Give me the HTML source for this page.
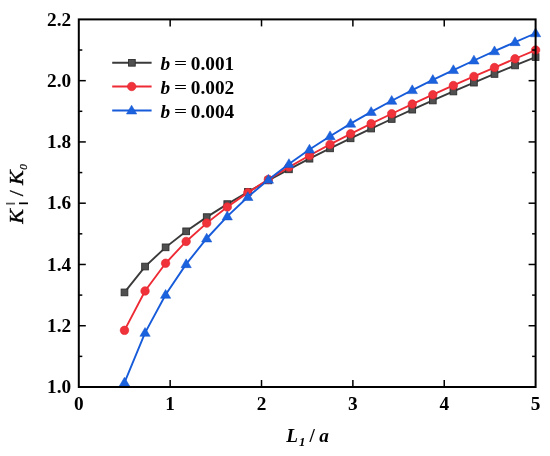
<!DOCTYPE html>
<html><head><meta charset="utf-8"><title>K/K0 vs L1/a</title>
<style>
html,body{margin:0;padding:0;background:#fff;width:550px;height:456px;overflow:hidden}
svg{display:block}
.t{font-family:"Liberation Serif","Times New Roman",serif;font-weight:bold;font-size:19.3px;fill:#000}
</style></head><body>
<svg width="550" height="456" viewBox="0 0 550 456">
<rect width="550" height="456" fill="#fff"/>
<polyline points="124.48,292.42 145.04,266.55 165.59,247.35 186.15,231.33 206.70,217.13 227.26,204.12 247.82,191.95 268.37,180.40 288.93,169.34 309.48,158.69 330.04,148.36 350.60,138.33 371.15,128.55 391.71,118.99 412.26,109.64 432.82,100.47 453.38,91.47 473.93,82.64 494.49,73.96 515.04,65.43 535.60,57.03" fill="none" stroke="#3a3a3a" stroke-width="1.9"/>
<rect x="121.13" y="289.07" width="6.7" height="6.7" fill="#505050" stroke="#2e2e2e" stroke-width="0.9"/>
<rect x="141.69" y="263.20" width="6.7" height="6.7" fill="#505050" stroke="#2e2e2e" stroke-width="0.9"/>
<rect x="162.24" y="244.00" width="6.7" height="6.7" fill="#505050" stroke="#2e2e2e" stroke-width="0.9"/>
<rect x="182.80" y="227.98" width="6.7" height="6.7" fill="#505050" stroke="#2e2e2e" stroke-width="0.9"/>
<rect x="203.35" y="213.78" width="6.7" height="6.7" fill="#505050" stroke="#2e2e2e" stroke-width="0.9"/>
<rect x="223.91" y="200.77" width="6.7" height="6.7" fill="#505050" stroke="#2e2e2e" stroke-width="0.9"/>
<rect x="244.47" y="188.60" width="6.7" height="6.7" fill="#505050" stroke="#2e2e2e" stroke-width="0.9"/>
<rect x="265.02" y="177.05" width="6.7" height="6.7" fill="#505050" stroke="#2e2e2e" stroke-width="0.9"/>
<rect x="285.58" y="165.99" width="6.7" height="6.7" fill="#505050" stroke="#2e2e2e" stroke-width="0.9"/>
<rect x="306.13" y="155.34" width="6.7" height="6.7" fill="#505050" stroke="#2e2e2e" stroke-width="0.9"/>
<rect x="326.69" y="145.01" width="6.7" height="6.7" fill="#505050" stroke="#2e2e2e" stroke-width="0.9"/>
<rect x="347.25" y="134.98" width="6.7" height="6.7" fill="#505050" stroke="#2e2e2e" stroke-width="0.9"/>
<rect x="367.80" y="125.20" width="6.7" height="6.7" fill="#505050" stroke="#2e2e2e" stroke-width="0.9"/>
<rect x="388.36" y="115.64" width="6.7" height="6.7" fill="#505050" stroke="#2e2e2e" stroke-width="0.9"/>
<rect x="408.91" y="106.29" width="6.7" height="6.7" fill="#505050" stroke="#2e2e2e" stroke-width="0.9"/>
<rect x="429.47" y="97.12" width="6.7" height="6.7" fill="#505050" stroke="#2e2e2e" stroke-width="0.9"/>
<rect x="450.03" y="88.12" width="6.7" height="6.7" fill="#505050" stroke="#2e2e2e" stroke-width="0.9"/>
<rect x="470.58" y="79.29" width="6.7" height="6.7" fill="#505050" stroke="#2e2e2e" stroke-width="0.9"/>
<rect x="491.14" y="70.61" width="6.7" height="6.7" fill="#505050" stroke="#2e2e2e" stroke-width="0.9"/>
<rect x="511.69" y="62.08" width="6.7" height="6.7" fill="#505050" stroke="#2e2e2e" stroke-width="0.9"/>
<rect x="532.25" y="53.68" width="6.7" height="6.7" fill="#505050" stroke="#2e2e2e" stroke-width="0.9"/>
<polyline points="124.48,330.37 145.04,290.95 165.59,263.25 186.15,241.43 206.70,223.11 227.26,207.08 247.82,192.66 268.37,179.43 288.93,167.10 309.48,155.48 330.04,144.43 350.60,133.84 371.15,123.63 391.71,113.74 412.26,104.11 432.82,94.71 453.38,85.49 473.93,76.44 494.49,67.54 515.04,58.75 535.60,50.06" fill="none" stroke="#ee2a34" stroke-width="1.9"/>
<circle cx="124.48" cy="330.37" r="4.25" fill="#f0333a" stroke="#e4222b" stroke-width="0.6"/>
<circle cx="145.04" cy="290.95" r="4.25" fill="#f0333a" stroke="#e4222b" stroke-width="0.6"/>
<circle cx="165.59" cy="263.25" r="4.25" fill="#f0333a" stroke="#e4222b" stroke-width="0.6"/>
<circle cx="186.15" cy="241.43" r="4.25" fill="#f0333a" stroke="#e4222b" stroke-width="0.6"/>
<circle cx="206.70" cy="223.11" r="4.25" fill="#f0333a" stroke="#e4222b" stroke-width="0.6"/>
<circle cx="227.26" cy="207.08" r="4.25" fill="#f0333a" stroke="#e4222b" stroke-width="0.6"/>
<circle cx="247.82" cy="192.66" r="4.25" fill="#f0333a" stroke="#e4222b" stroke-width="0.6"/>
<circle cx="268.37" cy="179.43" r="4.25" fill="#f0333a" stroke="#e4222b" stroke-width="0.6"/>
<circle cx="288.93" cy="167.10" r="4.25" fill="#f0333a" stroke="#e4222b" stroke-width="0.6"/>
<circle cx="309.48" cy="155.48" r="4.25" fill="#f0333a" stroke="#e4222b" stroke-width="0.6"/>
<circle cx="330.04" cy="144.43" r="4.25" fill="#f0333a" stroke="#e4222b" stroke-width="0.6"/>
<circle cx="350.60" cy="133.84" r="4.25" fill="#f0333a" stroke="#e4222b" stroke-width="0.6"/>
<circle cx="371.15" cy="123.63" r="4.25" fill="#f0333a" stroke="#e4222b" stroke-width="0.6"/>
<circle cx="391.71" cy="113.74" r="4.25" fill="#f0333a" stroke="#e4222b" stroke-width="0.6"/>
<circle cx="412.26" cy="104.11" r="4.25" fill="#f0333a" stroke="#e4222b" stroke-width="0.6"/>
<circle cx="432.82" cy="94.71" r="4.25" fill="#f0333a" stroke="#e4222b" stroke-width="0.6"/>
<circle cx="453.38" cy="85.49" r="4.25" fill="#f0333a" stroke="#e4222b" stroke-width="0.6"/>
<circle cx="473.93" cy="76.44" r="4.25" fill="#f0333a" stroke="#e4222b" stroke-width="0.6"/>
<circle cx="494.49" cy="67.54" r="4.25" fill="#f0333a" stroke="#e4222b" stroke-width="0.6"/>
<circle cx="515.04" cy="58.75" r="4.25" fill="#f0333a" stroke="#e4222b" stroke-width="0.6"/>
<circle cx="535.60" cy="50.06" r="4.25" fill="#f0333a" stroke="#e4222b" stroke-width="0.6"/>
<polyline points="124.48,382.52 145.04,332.80 165.59,294.79 186.15,264.14 206.70,238.49 227.26,216.42 247.82,197.02 268.37,179.68 288.93,163.96 309.48,149.54 330.04,136.18 350.60,123.69 371.15,111.93 391.71,100.77 412.26,90.12 432.82,79.91 453.38,70.05 473.93,60.50 494.49,51.22 515.04,42.14 535.60,33.25" fill="none" stroke="#165bda" stroke-width="1.9"/>
<polygon points="124.48,377.22 129.63,386.02 119.33,386.02" fill="#1b62de" stroke="#1252cc" stroke-width="0.5" stroke-linejoin="miter"/>
<polygon points="145.04,327.50 150.19,336.30 139.89,336.30" fill="#1b62de" stroke="#1252cc" stroke-width="0.5" stroke-linejoin="miter"/>
<polygon points="165.59,289.49 170.74,298.29 160.44,298.29" fill="#1b62de" stroke="#1252cc" stroke-width="0.5" stroke-linejoin="miter"/>
<polygon points="186.15,258.84 191.30,267.64 181.00,267.64" fill="#1b62de" stroke="#1252cc" stroke-width="0.5" stroke-linejoin="miter"/>
<polygon points="206.70,233.19 211.85,241.99 201.55,241.99" fill="#1b62de" stroke="#1252cc" stroke-width="0.5" stroke-linejoin="miter"/>
<polygon points="227.26,211.12 232.41,219.92 222.11,219.92" fill="#1b62de" stroke="#1252cc" stroke-width="0.5" stroke-linejoin="miter"/>
<polygon points="247.82,191.72 252.97,200.52 242.67,200.52" fill="#1b62de" stroke="#1252cc" stroke-width="0.5" stroke-linejoin="miter"/>
<polygon points="268.37,174.38 273.52,183.18 263.22,183.18" fill="#1b62de" stroke="#1252cc" stroke-width="0.5" stroke-linejoin="miter"/>
<polygon points="288.93,158.66 294.08,167.46 283.78,167.46" fill="#1b62de" stroke="#1252cc" stroke-width="0.5" stroke-linejoin="miter"/>
<polygon points="309.48,144.24 314.63,153.04 304.33,153.04" fill="#1b62de" stroke="#1252cc" stroke-width="0.5" stroke-linejoin="miter"/>
<polygon points="330.04,130.88 335.19,139.68 324.89,139.68" fill="#1b62de" stroke="#1252cc" stroke-width="0.5" stroke-linejoin="miter"/>
<polygon points="350.60,118.39 355.75,127.19 345.45,127.19" fill="#1b62de" stroke="#1252cc" stroke-width="0.5" stroke-linejoin="miter"/>
<polygon points="371.15,106.63 376.30,115.43 366.00,115.43" fill="#1b62de" stroke="#1252cc" stroke-width="0.5" stroke-linejoin="miter"/>
<polygon points="391.71,95.47 396.86,104.27 386.56,104.27" fill="#1b62de" stroke="#1252cc" stroke-width="0.5" stroke-linejoin="miter"/>
<polygon points="412.26,84.82 417.41,93.62 407.11,93.62" fill="#1b62de" stroke="#1252cc" stroke-width="0.5" stroke-linejoin="miter"/>
<polygon points="432.82,74.61 437.97,83.41 427.67,83.41" fill="#1b62de" stroke="#1252cc" stroke-width="0.5" stroke-linejoin="miter"/>
<polygon points="453.38,64.75 458.53,73.55 448.23,73.55" fill="#1b62de" stroke="#1252cc" stroke-width="0.5" stroke-linejoin="miter"/>
<polygon points="473.93,55.20 479.08,64.00 468.78,64.00" fill="#1b62de" stroke="#1252cc" stroke-width="0.5" stroke-linejoin="miter"/>
<polygon points="494.49,45.92 499.64,54.72 489.34,54.72" fill="#1b62de" stroke="#1252cc" stroke-width="0.5" stroke-linejoin="miter"/>
<polygon points="515.04,36.84 520.19,45.64 509.89,45.64" fill="#1b62de" stroke="#1252cc" stroke-width="0.5" stroke-linejoin="miter"/>
<polygon points="535.60,27.95 540.75,36.75 530.45,36.75" fill="#1b62de" stroke="#1252cc" stroke-width="0.5" stroke-linejoin="miter"/>
<rect x="78.80" y="19.40" width="456.80" height="367.60" fill="none" stroke="#000" stroke-width="2.0" stroke-linejoin="miter"/>
<line x1="170.16" y1="387.00" x2="170.16" y2="380.00" stroke="#000" stroke-width="1.5"/>
<line x1="170.16" y1="19.40" x2="170.16" y2="26.40" stroke="#000" stroke-width="1.5"/>
<line x1="261.52" y1="387.00" x2="261.52" y2="380.00" stroke="#000" stroke-width="1.5"/>
<line x1="261.52" y1="19.40" x2="261.52" y2="26.40" stroke="#000" stroke-width="1.5"/>
<line x1="352.88" y1="387.00" x2="352.88" y2="380.00" stroke="#000" stroke-width="1.5"/>
<line x1="352.88" y1="19.40" x2="352.88" y2="26.40" stroke="#000" stroke-width="1.5"/>
<line x1="444.24" y1="387.00" x2="444.24" y2="380.00" stroke="#000" stroke-width="1.5"/>
<line x1="444.24" y1="19.40" x2="444.24" y2="26.40" stroke="#000" stroke-width="1.5"/>
<line x1="78.80" y1="356.37" x2="82.30" y2="356.37" stroke="#000" stroke-width="1.5"/>
<line x1="535.60" y1="356.37" x2="532.10" y2="356.37" stroke="#000" stroke-width="1.5"/>
<line x1="78.80" y1="325.73" x2="85.80" y2="325.73" stroke="#000" stroke-width="1.5"/>
<line x1="535.60" y1="325.73" x2="528.60" y2="325.73" stroke="#000" stroke-width="1.5"/>
<line x1="78.80" y1="295.10" x2="82.30" y2="295.10" stroke="#000" stroke-width="1.5"/>
<line x1="535.60" y1="295.10" x2="532.10" y2="295.10" stroke="#000" stroke-width="1.5"/>
<line x1="78.80" y1="264.47" x2="85.80" y2="264.47" stroke="#000" stroke-width="1.5"/>
<line x1="535.60" y1="264.47" x2="528.60" y2="264.47" stroke="#000" stroke-width="1.5"/>
<line x1="78.80" y1="233.83" x2="82.30" y2="233.83" stroke="#000" stroke-width="1.5"/>
<line x1="535.60" y1="233.83" x2="532.10" y2="233.83" stroke="#000" stroke-width="1.5"/>
<line x1="78.80" y1="203.20" x2="85.80" y2="203.20" stroke="#000" stroke-width="1.5"/>
<line x1="535.60" y1="203.20" x2="528.60" y2="203.20" stroke="#000" stroke-width="1.5"/>
<line x1="78.80" y1="172.57" x2="82.30" y2="172.57" stroke="#000" stroke-width="1.5"/>
<line x1="535.60" y1="172.57" x2="532.10" y2="172.57" stroke="#000" stroke-width="1.5"/>
<line x1="78.80" y1="141.93" x2="85.80" y2="141.93" stroke="#000" stroke-width="1.5"/>
<line x1="535.60" y1="141.93" x2="528.60" y2="141.93" stroke="#000" stroke-width="1.5"/>
<line x1="78.80" y1="111.30" x2="82.30" y2="111.30" stroke="#000" stroke-width="1.5"/>
<line x1="535.60" y1="111.30" x2="532.10" y2="111.30" stroke="#000" stroke-width="1.5"/>
<line x1="78.80" y1="80.67" x2="85.80" y2="80.67" stroke="#000" stroke-width="1.5"/>
<line x1="535.60" y1="80.67" x2="528.60" y2="80.67" stroke="#000" stroke-width="1.5"/>
<line x1="78.80" y1="50.03" x2="82.30" y2="50.03" stroke="#000" stroke-width="1.5"/>
<line x1="535.60" y1="50.03" x2="532.10" y2="50.03" stroke="#000" stroke-width="1.5"/>
<text x="71.2" y="393.20" text-anchor="end" class="t">1.0</text>
<text x="71.2" y="331.93" text-anchor="end" class="t">1.2</text>
<text x="71.2" y="270.67" text-anchor="end" class="t">1.4</text>
<text x="71.2" y="209.40" text-anchor="end" class="t">1.6</text>
<text x="71.2" y="148.13" text-anchor="end" class="t">1.8</text>
<text x="71.2" y="86.87" text-anchor="end" class="t">2.0</text>
<text x="71.2" y="25.60" text-anchor="end" class="t">2.2</text>
<text x="78.80" y="410.3" text-anchor="middle" class="t">0</text>
<text x="170.16" y="410.3" text-anchor="middle" class="t">1</text>
<text x="261.52" y="410.3" text-anchor="middle" class="t">2</text>
<text x="352.88" y="410.3" text-anchor="middle" class="t">3</text>
<text x="444.24" y="410.3" text-anchor="middle" class="t">4</text>
<text x="535.60" y="410.3" text-anchor="middle" class="t">5</text>
<text transform="translate(22.7,223.7) rotate(-90) scale(1.13,1)" style="font-family:&quot;Liberation Serif&quot;,serif;font-style:italic;font-weight:normal;font-size:19.5px;stroke:#000;stroke-width:0.4px">K</text>
<text transform="translate(14.8,205.3) rotate(-90)" style="font-family:&quot;Liberation Sans&quot;,sans-serif;font-weight:bold;font-size:12px;fill:#555">I</text>
<text transform="translate(27.9,204.9) rotate(-90)" style="font-family:&quot;Liberation Sans&quot;,sans-serif;font-weight:bold;font-size:12px">I</text>
<text transform="translate(22.7,196.2) rotate(-90) scale(1.13,1)" style="font-family:&quot;Liberation Serif&quot;,serif;font-weight:normal;font-size:19.5px;stroke:#000;stroke-width:0.3px">/</text>
<text transform="translate(23.2,184.9) rotate(-90) scale(1.13,1)" style="font-family:&quot;Liberation Serif&quot;,serif;font-style:italic;font-weight:normal;font-size:19.5px;stroke:#000;stroke-width:0.4px">K</text>
<text transform="translate(27.4,169.8) rotate(-90)" style="font-family:&quot;Liberation Serif&quot;,serif;font-style:italic;font-weight:normal;font-size:11.3px;stroke:#000;stroke-width:0.25px">0</text>
<text x="286.3" y="441.5" class="t" font-style="italic">L</text>
<text x="299.0" y="446.4" class="t" font-style="italic" style="font-size:12.8px">1</text>
<text x="309.5" y="441.5" class="t">/</text>
<text x="319.2" y="441.5" class="t" font-style="italic">a</text>
<line x1="112.2" y1="62.8" x2="151.6" y2="62.8" stroke="#3a3a3a" stroke-width="1.9"/>
<rect x="128.55" y="59.45" width="6.7" height="6.7" fill="#505050" stroke="#2e2e2e" stroke-width="0.9"/>
<text x="160.5" y="69.80" class="t" font-style="italic">b</text>
<text transform="translate(173.9,68.10) scale(1.2,0.8)" class="t">=</text>
<text x="190.8" y="69.80" class="t">0.001</text>
<line x1="112.2" y1="86.5" x2="151.6" y2="86.5" stroke="#ee2a34" stroke-width="1.9"/>
<circle cx="131.70" cy="86.50" r="4.25" fill="#f0333a" stroke="#e4222b" stroke-width="0.6"/>
<text x="160.5" y="93.50" class="t" font-style="italic">b</text>
<text transform="translate(173.9,91.80) scale(1.2,0.8)" class="t">=</text>
<text x="190.8" y="93.50" class="t">0.002</text>
<line x1="112.2" y1="110.5" x2="151.6" y2="110.5" stroke="#165bda" stroke-width="1.9"/>
<polygon points="131.60,105.20 136.75,114.00 126.45,114.00" fill="#1b62de" stroke="#1252cc" stroke-width="0.5" stroke-linejoin="miter"/>
<text x="160.5" y="117.50" class="t" font-style="italic">b</text>
<text transform="translate(173.9,115.80) scale(1.2,0.8)" class="t">=</text>
<text x="190.8" y="117.50" class="t">0.004</text>
</svg>
</body></html>
